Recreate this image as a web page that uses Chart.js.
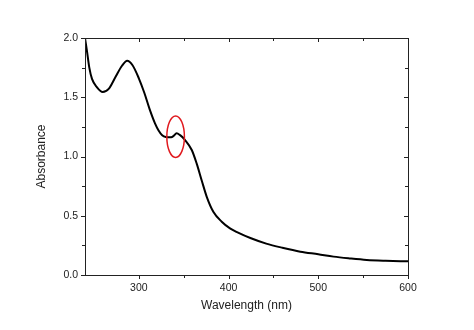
<!DOCTYPE html>
<html>
<head>
<meta charset="utf-8">
<script src="https://cdn.jsdelivr.net/npm/chart.js@4/dist/chart.umd.min.js"></script>
<style>
  html, body { margin: 0; padding: 0; background: #fff; }
  #wrap { width: 474px; height: 330px; position: relative; }
</style>
</head>
<body>
<div id="wrap"><canvas id="c"></canvas></div>
<script>
// Wavelength (nm)
const wavelengths = [240, 242.2, 244.8, 247.8, 253.4, 259.7, 266.4, 273.8, 281.2, 287, 293, 300, 306, 312, 318, 322, 326, 330, 336, 339, 342, 346, 351.5, 359, 364.5, 370, 375.7, 383, 392.4, 401.6, 410, 425, 442, 460, 480, 500, 517, 535, 554, 575, 600];
// Absorbance
const absorbance = [2.00, 1.89, 1.75, 1.655, 1.584, 1.544, 1.57, 1.668, 1.766, 1.808, 1.77, 1.66, 1.54, 1.40, 1.28, 1.22, 1.18, 1.165, 1.162, 1.175, 1.196, 1.18, 1.139, 1.055, 0.94, 0.80, 0.66, 0.534, 0.45, 0.394, 0.36, 0.31, 0.265, 0.23, 0.197, 0.175, 0.155, 0.14, 0.127, 0.12, 0.115];
const xTickLabels = [300, 400, 500, 600];
const yTickLabels = [0.0, 0.5, 1.0, 1.5, 2.0];
// highlighted feature (ellipse) in data units
const highlight = { wl: 341, abs: 1.167, rWl: 9.8, rAbs: 0.175 };

const points = wavelengths.map((w, i) => ({ x: w, y: absorbance[i] }));

const framePlugin = {
  id: 'frame',
  afterDatasetsDraw(chart) {
    const { ctx, chartArea: a, scales: { x, y } } = chart;
    ctx.save();
    // ellipse
    const cx = x.getPixelForValue(highlight.wl);
    const cy = y.getPixelForValue(highlight.abs);
    const rx = Math.abs(x.getPixelForValue(highlight.wl + highlight.rWl) - cx);
    const ry = Math.abs(y.getPixelForValue(highlight.abs + highlight.rAbs) - cy);
    ctx.strokeStyle = '#e0191e';
    ctx.lineWidth = 1.5;
    ctx.beginPath();
    ctx.ellipse(cx, cy, rx, ry, 0, 0, Math.PI * 2);
    ctx.stroke();
    // frame
    ctx.strokeStyle = '#222';
    ctx.lineWidth = 1;
    ctx.strokeRect(Math.round(a.left) + 0.5, Math.round(a.top) + 0.5, Math.round(a.right - a.left), Math.round(a.bottom - a.top));
    ctx.beginPath();
    x.ticks.forEach(t => {
      if (t.value % 50 !== 0) return;
      const major = t.value % 100 === 0;
      const len = major ? 4 : 3;
      const px = Math.round(x.getPixelForValue(t.value)) + 0.5;
      ctx.moveTo(px, a.bottom); ctx.lineTo(px, a.bottom + len);
      ctx.moveTo(px, a.top); ctx.lineTo(px, a.top + len);
    });
    y.ticks.forEach(t => {
      const v = Math.round(t.value * 100);
      if (v % 25 !== 0) return;
      const major = v % 50 === 0;
      const len = major ? 4 : 3;
      const py = Math.round(y.getPixelForValue(t.value)) + 0.5;
      ctx.moveTo(a.left, py); ctx.lineTo(a.left - len, py);
      ctx.moveTo(a.right, py); ctx.lineTo(a.right - len, py);
    });
    ctx.stroke();
    ctx.restore();
  }
};

new Chart(document.getElementById('c'), {
  type: 'line',
  data: {
    datasets: [{
      data: points,
      borderColor: '#000',
      borderWidth: 2,
      pointRadius: 0,
      fill: false,
      cubicInterpolationMode: 'monotone'
    }]
  },
  options: {
    responsive: true,
    maintainAspectRatio: false,
    animation: false,
    layout: { padding: { top: 38, right: 66, left: 0, bottom: 0 } },
    plugins: { legend: { display: false }, tooltip: { enabled: false } },
    scales: {
      x: {
        type: 'linear',
        min: 240, max: 600,
        grid: { display: false, drawTicks: false },
        border: { display: false },
        ticks: {
          stepSize: 50,
          padding: 7,
          color: '#222',
          font: { family: 'Liberation Sans, Arial, sans-serif', size: 10.5 },
          autoSkip: false,
          maxRotation: 0,
          callback: v => xTickLabels.includes(v) ? String(v) : ''
        },
        title: {
          display: true,
          text: 'Wavelength (nm)',
          color: '#222',
          font: { family: 'Liberation Sans, Arial, sans-serif', size: 12 },
          padding: { top: 0, bottom: 17 }
        },
        afterFit(s) { s.height = 55; }
      },
      y: {
        min: 0, max: 2,
        grid: { display: false, drawTicks: false },
        border: { display: false },
        ticks: {
          stepSize: 0.25,
          padding: 7,
          color: '#222',
          font: { family: 'Liberation Sans, Arial, sans-serif', size: 10.5 },
          autoSkip: false,
          callback: v => yTickLabels.some(l => Math.abs(l - v) < 1e-6) ? v.toFixed(1) : ''
        },
        title: {
          display: true,
          text: 'Absorbance',
          color: '#222',
          font: { family: 'Liberation Sans, Arial, sans-serif', size: 12 },
          padding: { top: 34, bottom: 0 }
        },
        afterFit(s) { s.width = 85; }
      }
    }
  },
  plugins: [framePlugin]
});
</script>
</body>
</html>
